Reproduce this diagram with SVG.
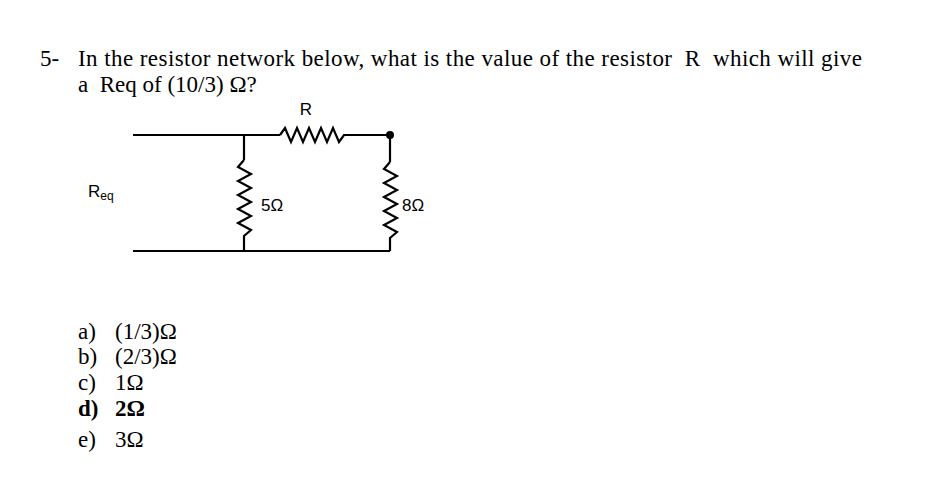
<svg xmlns="http://www.w3.org/2000/svg" width="938" height="478" viewBox="0 0 938 478">
<style>
.t{font-family:"Liberation Serif",serif;font-size:23px;fill:#000}
.s{font-family:"Liberation Sans",Arial,sans-serif;font-size:17px;fill:#000}
.w{stroke:#000;stroke-width:2.2;fill:none;stroke-linejoin:miter}
</style>
<rect width="938" height="478" fill="#fff"/>
<g id="question">
<text class="t" x="40" y="66">5-</text>
<text class="t" x="78" y="66" textLength="784" xml:space="preserve">In the resistor network below, what is the value of the resistor  R  which will give</text>
<text class="t" x="78" y="92" xml:space="preserve">a  Req of (10/3) Ω?</text>
</g>
<g id="connectors">
<path class="w" d="M133 135 H280"/>
<path class="w" d="M347 135 H390 V162"/>
<path class="w" d="M244 135 V160"/>
<path class="w" d="M244 240 V251"/>
<path class="w" d="M390 242 V251"/>
<path class="w" d="M133 251 H390"/>
</g>
<g id="R">
<path class="w" d="M280 135 L285 128 L291 142 L297 128 L303 142 L309 128 L315 142 L321 128 L327 142 L333 128 L339 142 L344 135 L347 135"/>
<text class="s" x="306" y="115" text-anchor="middle">R</text>
</g>
<g id="node"><circle cx="390" cy="135" r="4" fill="#000"/></g>
<g id="R5">
<path class="w" d="M244 160 L238 167 L251 174 L238 181 L251 188 L238 195 L251 202 L238 209 L251 216 L238 223 L251 230 L244 236 V240"/>
<text class="s" x="261" y="211">5Ω</text>
</g>
<g id="R8">
<path class="w" d="M390 162 L384 169 L397 176 L384 183 L397 190 L384 197 L397 204 L384 211 L397 218 L384 225 L397 232 L390 238 V242"/>
<text class="s" x="402" y="211">8Ω</text>
</g>
<g id="Req"><text class="s" x="88" y="197">R<tspan font-size="12" dy="3">eq</tspan></text></g>
<g id="options">
<text class="t" x="78" y="339">a)</text><text class="t" x="115" y="339">(1/3)Ω</text>
<text class="t" x="78" y="364">b)</text><text class="t" x="115" y="364">(2/3)Ω</text>
<text class="t" x="78" y="390">c)</text><text class="t" x="115" y="390">1Ω</text>
<text class="t" x="78" y="416" font-weight="bold">d)</text><text class="t" x="115" y="416" font-weight="bold">2Ω</text>
<text class="t" x="78" y="447">e)</text><text class="t" x="115" y="447">3Ω</text>
</g>
</svg>
